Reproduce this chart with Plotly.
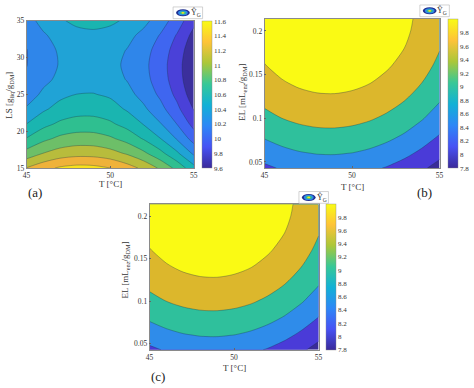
import plotly.graph_objects as go

W, H = 474, 388

T_VALUES = [45, 46, 47, 48, 49, 50, 51, 52, 53, 54, 55]
LS_VALUES = [15, 17, 19, 21, 23, 25, 27, 29, 31, 33, 35]
EL_VALUES = [0.043, 0.06, 0.08, 0.10, 0.12, 0.14, 0.16, 0.18, 0.20, 0.214]

Z_A = [
    [11.409, 11.533, 11.630, 11.670, 11.660, 11.605, 11.493, 11.353, 11.169, 10.941, 10.669],
    [11.077, 11.204, 11.287, 11.325, 11.320, 11.271, 11.178, 11.041, 10.859, 10.634, 10.365],
    [10.810, 10.950, 11.045, 11.087, 11.084, 11.030, 10.930, 10.783, 10.605, 10.382, 10.116],
    [10.600, 10.740, 10.835, 10.880, 10.880, 10.830, 10.730, 10.589, 10.413, 10.194, 9.930],
    [10.425, 10.570, 10.672, 10.720, 10.723, 10.682, 10.580, 10.438, 10.266, 10.049, 9.788],
    [10.295, 10.440, 10.552, 10.602, 10.608, 10.570, 10.465, 10.332, 10.162, 9.948, 9.690],
    [10.230, 10.349, 10.446, 10.498, 10.507, 10.472, 10.393, 10.270, 10.102, 9.891, 9.636],
    [10.195, 10.314, 10.413, 10.469, 10.480, 10.448, 10.372, 10.251, 10.087, 9.878, 9.626],
    [10.195, 10.322, 10.425, 10.483, 10.498, 10.468, 10.394, 10.277, 10.115, 9.910, 9.660],
    [10.245, 10.374, 10.479, 10.541, 10.558, 10.531, 10.460, 10.345, 10.187, 9.984, 9.737],
    [10.319, 10.471, 10.579, 10.643, 10.663, 10.639, 10.571, 10.459, 10.303, 10.103, 9.859],
]

Z_B = [
    [8.402, 8.546, 8.645, 8.699, 8.708, 8.672, 8.591, 8.465, 8.294, 8.078, 7.817],
    [8.723, 8.867, 8.966, 9.020, 9.029, 8.993, 8.912, 8.786, 8.615, 8.399, 8.138],
    [9.062, 9.206, 9.305, 9.359, 9.368, 9.332, 9.251, 9.125, 8.954, 8.738, 8.477],
    [9.357, 9.501, 9.600, 9.654, 9.663, 9.627, 9.546, 9.420, 9.249, 9.033, 8.772],
    [9.608, 9.752, 9.851, 9.905, 9.914, 9.878, 9.797, 9.671, 9.500, 9.284, 9.023],
    [9.817, 9.961, 10.060, 10.114, 10.123, 10.087, 10.006, 9.880, 9.709, 9.493, 9.232],
    [9.982, 10.126, 10.225, 10.279, 10.288, 10.252, 10.171, 10.045, 9.874, 9.658, 9.397],
    [10.105, 10.249, 10.348, 10.402, 10.411, 10.375, 10.294, 10.168, 9.997, 9.781, 9.520],
    [10.184, 10.328, 10.427, 10.481, 10.490, 10.454, 10.373, 10.247, 10.076, 9.860, 9.599],
    [10.213, 10.357, 10.456, 10.510, 10.519, 10.483, 10.402, 10.276, 10.105, 9.889, 9.628],
]

BANDS_A = ["#3b2f9c", "#4a41d8", "#3f66f0", "#2f86ea", "#20a3d6", "#1ab5b0",
           "#2fbf90", "#6dbf68", "#b8bc3c", "#efb23a", "#f9e01e"]
BANDS_B = ["#3a2c98", "#4a3bd8", "#2f8cea", "#2fc09c", "#dcb72c", "#fafa14"]
PARULA = ["#3a2a9a", "#4752f4", "#2d87f7", "#12b1d6", "#37c897", "#abc739", "#fec338", "#f9fb15"]

TICKS_A_CB = [9.6, 9.8, 10, 10.2, 10.4, 10.6, 10.8, 11, 11.2, 11.4, 11.6]
TICKS_B_CB = [7.8, 8, 8.2, 8.4, 8.6, 8.8, 9, 9.2, 9.4, 9.6, 9.8]
TICKS_T = [45, 50, 55]
TICKS_LS = [15, 20, 25, 30, 35]
TICKS_EL = [0.05, 0.1, 0.15, 0.2]

FONT = "Liberation Serif"
INK = "#333333"


def px(x):
    return x / W


def py(y):
    return 1 - y / H


def even(colors):
    n = len(colors) - 1
    return [[i / n, c] for i, c in enumerate(colors)]


fig = go.Figure()
annotations, shapes = [], []


def panel(idx, box, bar, x, y, z, yticks, bands, lev, cb_range, cb_ticks, ylabel,
          ylab_pos, xlab_pos, letter, letter_pos, legend_box):
    x0, x1, y0, y1 = box
    sfx = "" if idx == 1 else str(idx)
    axis = dict(showgrid=False, zeroline=False, showline=True, mirror=True, linecolor="#8a8a8a",
                linewidth=0.6, ticks="inside", ticklen=2, tickwidth=0.5, tickcolor="#666",
                tickfont=dict(family=FONT, size=7.5, color=INK))
    fig.update_layout({
        "xaxis" + sfx: dict(axis, domain=[px(x0), px(x1)], range=[x[0], x[-1]], tickvals=TICKS_T,
                            anchor="y" + sfx),
        "yaxis" + sfx: dict(axis, domain=[py(y1), py(y0)], range=[y[0], y[-1]], tickvals=yticks,
                            anchor="x" + sfx),
    })
    fig.add_trace(go.Contour(
        x=x, y=y, z=z, xaxis="x" + sfx, yaxis="y" + sfx, showscale=False, hoverinfo="skip",
        colorscale=even(bands), autocontour=False,
        contours=dict(start=lev[0], end=lev[1], size=lev[2], coloring="fill"),
        line=dict(color="rgba(25,50,70,0.55)", width=0.6, smoothing=0.8),
    ))
    bx0, bx1 = bar
    fig.add_trace(go.Scatter(
        x=[x[0], x[-1]], y=[y[0], y[-1]], xaxis="x" + sfx, yaxis="y" + sfx, mode="markers",
        hoverinfo="skip", showlegend=False,
        marker=dict(size=1, opacity=0, color=list(cb_range), cmin=cb_range[0], cmax=cb_range[1],
                    colorscale=even(PARULA), showscale=True,
                    colorbar=dict(x=px(bx0), xanchor="left", xpad=0, ypad=0,
                                  y=py(y1), yanchor="bottom", len=(y1 - y0) / H, lenmode="fraction",
                                  thickness=bx1 - bx0, thicknessmode="pixels",
                                  outlinewidth=0.4, outlinecolor="#888", tickvals=cb_ticks,
                                  ticktext=[f"{t:g}" for t in cb_ticks],
                                  ticks="", ticklabelposition="outside",
                                  tickfont=dict(family=FONT, size=7, color=INK))),
    ))

    def label(pos, text, size=9, angle=0, color=INK):
        annotations.append(dict(x=px(pos[0]), y=py(pos[1]), xref="paper", yref="paper", text=text,
                                showarrow=False, textangle=angle, xanchor="center", yanchor="middle",
                                font=dict(family=FONT, size=size, color=color)))

    label(xlab_pos, "T [°C]")
    label(ylab_pos, ylabel, angle=-90)
    label(letter_pos, letter, size=13, color="#222222")

    lx0, ly0, lx1, ly1 = legend_box
    shapes.append(dict(type="rect", xref="paper", yref="paper", x0=px(lx0), x1=px(lx1),
                       y0=py(ly1), y1=py(ly0), line=dict(color="#b5b5b5", width=0.6),
                       fillcolor="white", layer="above"))
    cx, cy = lx0 + 10, (ly0 + ly1) / 2
    for rx, ry, col in [(7, 3.6, "#1f2f8f"), (5, 2.6, "#2f86ea"), (3.2, 1.7, "#2fbf90"), (1.6, 0.9, "#f9e01e")]:
        shapes.append(dict(type="circle", xref="paper", yref="paper", x0=px(cx - rx), x1=px(cx + rx),
                           y0=py(cy + ry), y1=py(cy - ry), line=dict(width=0), fillcolor=col, layer="above"))
    label((lx1 - 7, cy), "Ŷ<sub>G</sub>", size=8)


panel(1, (23, 193, 17, 168), (201, 211), T_VALUES, LS_VALUES, Z_A, TICKS_LS, BANDS_A, (9.8, 11.6, 0.2),
      (9.6, 11.6), TICKS_A_CB, "LS [g<sub>liq</sub>/g<sub>DM</sub>]", (6, 93), (108, 184), "(a)", (32, 193),
      (172, 3, 202, 15))
panel(2, (265, 443, 15, 168), (452, 462), T_VALUES, EL_VALUES, Z_B, TICKS_EL, BANDS_B, (8, 10, 0.5),
      (7.8, 10), TICKS_B_CB, "EL [mL<sub>enz</sub>/g<sub>DM</sub>]", (243, 90), (354, 187), "(b)", (428, 193),
      (423, 1, 453, 13))
panel(3, (148, 320, 205, 354), (328, 338), T_VALUES, EL_VALUES, Z_B, TICKS_EL, BANDS_B, (8, 10, 0.5),
      (7.8, 10), TICKS_B_CB, "EL [mL<sub>enz</sub>/g<sub>DM</sub>]", (124, 272), (234, 373), "(c)", (157, 381),
      (300, 192, 330, 204))

fig.update_layout(width=W, height=H, autosize=False, margin=dict(l=0, r=0, t=0, b=0),
                  paper_bgcolor="white", plot_bgcolor="white", showlegend=False,
                  annotations=annotations, shapes=shapes)
fig.write_html("out.html", post_script="document.body.style.margin='0';",
               config={"displayModeBar": False})
